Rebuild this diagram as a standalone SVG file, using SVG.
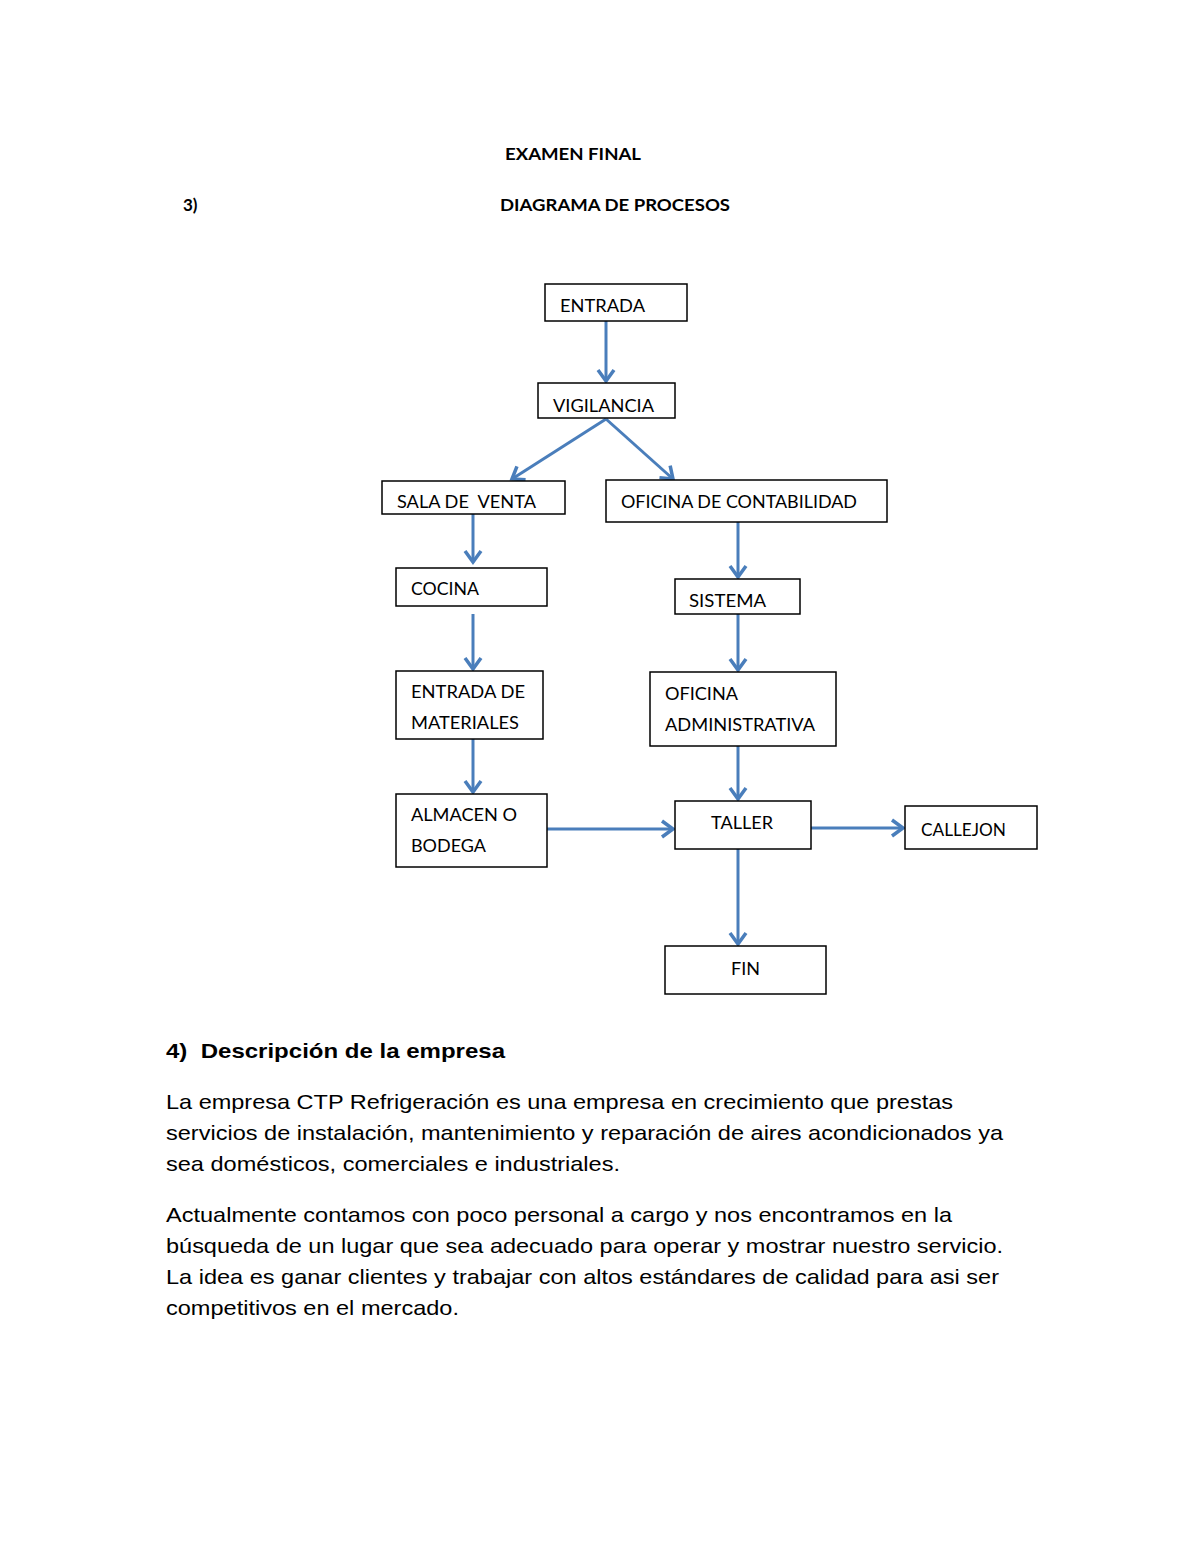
<svg xmlns="http://www.w3.org/2000/svg" width="1200" height="1553" viewBox="0 0 1200 1553">
<defs>
<marker id="ah" markerWidth="20" markerHeight="20" refX="13" refY="10" orient="auto" markerUnits="userSpaceOnUse">
<path d="M2,2 L13,10 L2,18" fill="none" stroke="#4a7ebb" stroke-width="3.5"/>
</marker>
<style>
.box{fill:#fff;stroke:#000;stroke-width:1.5}
.lbl{font-family:Lato,"Open Sans","Liberation Sans",sans-serif;font-size:17px;fill:#000}
.hd{font-family:Lato,"Liberation Sans",sans-serif;font-size:17px;font-weight:bold;fill:#000}
.body{font-family:"Liberation Sans",Arial,sans-serif;font-size:21px;fill:#000}
.conn{stroke:#4a7ebb;stroke-width:3;fill:none;marker-end:url(#ah)}
</style>
</defs>
<rect width="1200" height="1553" fill="#fff"/>
<text class="hd" x="505" y="160" textLength="136" lengthAdjust="spacingAndGlyphs">EXAMEN FINAL</text>
<text class="hd" x="183" y="211">3)</text>
<text class="hd" x="500" y="211" textLength="230" lengthAdjust="spacingAndGlyphs">DIAGRAMA DE PROCESOS</text>

<g id="connectors">
<line class="conn" x1="606" y1="321" x2="606" y2="381"/>
<line class="conn" x1="606" y1="419" x2="512" y2="479"/>
<line class="conn" x1="606" y1="419" x2="673" y2="479"/>
<line class="conn" x1="473" y1="514" x2="473" y2="562"/>
<line class="conn" x1="738" y1="522" x2="738" y2="577"/>
<line class="conn" x1="473" y1="614" x2="473" y2="669"/>
<line class="conn" x1="738" y1="614" x2="738" y2="670"/>
<line class="conn" x1="473" y1="739" x2="473" y2="792"/>
<line class="conn" x1="738" y1="746" x2="738" y2="799"/>
<line class="conn" x1="547" y1="829" x2="673" y2="829"/>
<line class="conn" x1="811" y1="828" x2="903" y2="828"/>
<line class="conn" x1="738" y1="849" x2="738" y2="944"/>
</g>

<g id="n-entrada"><rect class="box" x="545" y="284" width="142" height="37"/><text class="lbl" x="560" y="312" textLength="85" lengthAdjust="spacingAndGlyphs">ENTRADA</text></g>
<g id="n-vigilancia"><rect class="box" x="538" y="383" width="137" height="35"/><text class="lbl" x="553" y="412" textLength="101" lengthAdjust="spacingAndGlyphs">VIGILANCIA</text></g>
<g id="n-sala"><rect class="box" x="382" y="481" width="183" height="33"/><text class="lbl" x="397" y="508" textLength="139" lengthAdjust="spacingAndGlyphs" xml:space="preserve">SALA DE  VENTA</text></g>
<g id="n-contabilidad"><rect class="box" x="606" y="480" width="281" height="42"/><text class="lbl" x="621" y="508" textLength="236" lengthAdjust="spacingAndGlyphs">OFICINA DE CONTABILIDAD</text></g>
<g id="n-cocina"><rect class="box" x="396" y="568" width="151" height="38"/><text class="lbl" x="411" y="595" textLength="68" lengthAdjust="spacingAndGlyphs">COCINA</text></g>
<g id="n-sistema"><rect class="box" x="675" y="579" width="125" height="35"/><text class="lbl" x="689" y="607" textLength="77" lengthAdjust="spacingAndGlyphs">SISTEMA</text></g>
<g id="n-materiales"><rect class="box" x="396" y="671" width="147" height="68"/><text class="lbl" x="411" y="698" textLength="114" lengthAdjust="spacingAndGlyphs">ENTRADA DE</text><text class="lbl" x="411" y="729" textLength="108" lengthAdjust="spacingAndGlyphs">MATERIALES</text></g>
<g id="n-administrativa"><rect class="box" x="650" y="672" width="186" height="74"/><text class="lbl" x="665" y="700" textLength="73" lengthAdjust="spacingAndGlyphs">OFICINA</text><text class="lbl" x="665" y="731" textLength="150" lengthAdjust="spacingAndGlyphs">ADMINISTRATIVA</text></g>
<g id="n-almacen"><rect class="box" x="396" y="794" width="151" height="73"/><text class="lbl" x="411" y="821" textLength="106" lengthAdjust="spacingAndGlyphs">ALMACEN O</text><text class="lbl" x="411" y="852" textLength="75" lengthAdjust="spacingAndGlyphs">BODEGA</text></g>
<g id="n-taller"><rect class="box" x="675" y="801" width="136" height="48"/><text class="lbl" x="711" y="829" textLength="62" lengthAdjust="spacingAndGlyphs">TALLER</text></g>
<g id="n-callejon"><rect class="box" x="905" y="806" width="132" height="43"/><text class="lbl" x="921" y="836" textLength="85" lengthAdjust="spacingAndGlyphs">CALLEJON</text></g>
<g id="n-fin"><rect class="box" x="665" y="946" width="161" height="48"/><text class="lbl" x="731" y="975" textLength="29" lengthAdjust="spacingAndGlyphs">FIN</text></g>

<text class="body" x="166" y="1058" font-weight="bold" textLength="339" lengthAdjust="spacingAndGlyphs" xml:space="preserve">4)  Descripción de la empresa</text>
<text class="body" x="166" y="1109" textLength="787" lengthAdjust="spacingAndGlyphs">La empresa CTP Refrigeración es una empresa en crecimiento que prestas</text>
<text class="body" x="166" y="1140" textLength="837" lengthAdjust="spacingAndGlyphs">servicios de instalación, mantenimiento y reparación de aires acondicionados ya</text>
<text class="body" x="166" y="1171" textLength="454" lengthAdjust="spacingAndGlyphs">sea domésticos, comerciales e industriales.</text>
<text class="body" x="166" y="1222" textLength="786" lengthAdjust="spacingAndGlyphs">Actualmente contamos con poco personal a cargo y nos encontramos en la</text>
<text class="body" x="166" y="1253" textLength="837" lengthAdjust="spacingAndGlyphs">búsqueda de un lugar que sea adecuado para operar y mostrar nuestro servicio.</text>
<text class="body" x="166" y="1284" textLength="833" lengthAdjust="spacingAndGlyphs">La idea es ganar clientes y trabajar con altos estándares de calidad para asi ser</text>
<text class="body" x="166" y="1315" textLength="293" lengthAdjust="spacingAndGlyphs">competitivos en el mercado.</text>
</svg>
